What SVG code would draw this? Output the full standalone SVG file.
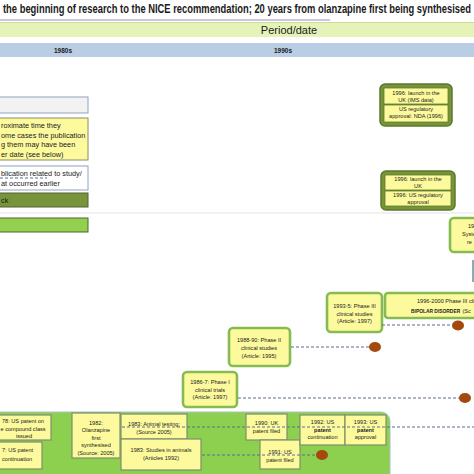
<svg xmlns="http://www.w3.org/2000/svg" width="474" height="474" viewBox="0 0 474 474">
<defs>
<style>
text{font-family:"Liberation Sans",Arial,sans-serif;fill:#1a1a1a}
.t{font-size:5.6px;text-anchor:middle}
.ts{font-size:5.6px}
.lg{font-size:7.3px}
.yb{fill:#fdfa9e;stroke:#7f8f6a;stroke-width:1.2}
.nd{fill:#fdfa9e;stroke:#86bb52;stroke-width:2.6}
.cell{fill:#fdfa9e;stroke:#5d7a2a;stroke-width:0.8}
.dg{fill:#77933c;stroke:#5d7a2a;stroke-width:1.5}
.dl{stroke:#5b6e8f;stroke-width:1.2;stroke-dasharray:3 2;fill:none}
.dot{fill:#a5480f}
</style>
</defs>
<rect width="474" height="474" fill="#fff"/>
<g id="title">
<text x="3" y="13" font-size="13" font-weight="bold" textLength="468" lengthAdjust="spacingAndGlyphs">the beginning of research to the NICE recommendation; 20 years from olanzapine first being synthesised</text>
<line x1="0" y1="20" x2="330" y2="20" stroke="#9b8ac0" stroke-width="1"/>
</g>
<g id="period">
<rect x="0" y="22" width="474" height="15" fill="#e6f3b8"/>
<line x1="0" y1="22.5" x2="474" y2="22.5" stroke="#c8de90" stroke-width="1"/>
<text x="289" y="34" font-size="11" text-anchor="middle">Period/date</text>
</g>
<g id="decades">
<rect x="0" y="43" width="474" height="14" fill="#b9cde5"/>
<text x="63" y="52.5" font-size="6.5" font-weight="bold" text-anchor="middle">1980s</text>
<text x="283" y="52.5" font-size="6.5" font-weight="bold" text-anchor="middle">1990s</text>
</g>
<g id="legend">
<rect x="-3" y="97" width="91" height="16" fill="#f2f2f2" stroke="#8ea2c0" stroke-width="1"/>
<rect x="-3" y="118" width="91" height="42" fill="#fdfa9e" stroke="#8a8a6a" stroke-width="1"/>
<text class="lg" x="1" y="127.5">roximate time they</text>
<text class="lg" x="1" y="137.5">ome cases the publication</text>
<text class="lg" x="1" y="146.5">g them may have been</text>
<text class="lg" x="1" y="156.5">er date (see below)</text>
<rect x="-3" y="166" width="91" height="24" fill="#fff" stroke="#8ea2c0" stroke-width="1"/>
<text class="lg" x="1" y="175.5">blication related to study/</text>
<line x1="0" y1="178" x2="47" y2="178" class="dl" stroke-width="0.8"/>
<text class="lg" x="1" y="185.5">at occurred earlier</text>
<rect x="-3" y="193" width="91" height="14" fill="#77933c" stroke="#55622f" stroke-width="1"/>
<text class="lg" x="1" y="202.5">ck</text>
<line x1="0" y1="213" x2="474" y2="213" stroke="#e3e3e3" stroke-width="1.2"/>
<rect x="-3" y="218" width="91" height="14" fill="#92d050" stroke="#55622f" stroke-width="1"/>
</g>
<g id="nodeA">
<rect x="380" y="84" width="72" height="42" rx="5" class="dg"/>
<rect x="384" y="88" width="64" height="16" class="cell"/>
<rect x="384" y="105" width="64" height="17" class="cell"/>
<text class="t" x="416" y="95">1996: launch in the</text>
<text class="t" x="416" y="102">UK (IMS data)</text>
<text class="t" x="416" y="110.5">US regulatory</text>
<text class="t" x="416" y="118">approval: NDA (1996)</text>
</g>
<g id="nodeB">
<rect x="381" y="171" width="74" height="39" rx="5" class="dg"/>
<rect x="385" y="175" width="66" height="15" class="cell"/>
<rect x="385" y="191" width="66" height="15" class="cell"/>
<text class="t" x="418" y="180.5">1996: launch in the</text>
<text class="t" x="418" y="188">UK</text>
<text class="t" x="418" y="197">1996: US regulatory</text>
<text class="t" x="418" y="204">approval</text>
</g>
<g id="nodeC">
<rect x="450" y="218" width="40" height="34" rx="4" class="nd"/>
<text class="ts" x="468" y="227.5">19</text>
<text class="ts" x="462" y="235.5">Syste</text>
<text class="ts" x="467" y="244">re</text>
<rect x="472" y="260" width="3" height="22" fill="#8eaab8"/>
</g>
<g id="nodeD">
<rect x="385" y="293" width="105" height="25" rx="3" class="nd"/>
<text class="ts" x="417" y="303">1996-2000 Phase III cli</text>
<text x="411" y="312.5" font-size="4.9" font-weight="bold">BIPOLAR DISORDER</text>
<text class="ts" x="462.5" y="312.5">(Sc</text>
</g>
<g id="nodeE">
<rect x="327" y="293" width="55" height="39" rx="4" class="nd"/>
<text class="t" x="354.5" y="308">1993-5: Phase III</text>
<text class="t" x="354.5" y="315.5">clinical studies</text>
<text class="t" x="354.5" y="323">(Article: 1997)</text>
</g>
<g id="nodeF">
<rect x="229" y="328" width="61" height="38" rx="4" class="nd"/>
<text class="t" x="259" y="342">1988-90: Phase II</text>
<text class="t" x="259" y="350">clinical studies</text>
<text class="t" x="259" y="358">(Article: 1995)</text>
</g>
<g id="nodeG">
<rect x="183" y="372" width="54" height="35" rx="4" class="nd"/>
<text class="t" x="210" y="384">1986-7: Phase I</text>
<text class="t" x="210" y="391.5">clinical trials</text>
<text class="t" x="210" y="399">(Article: 1997)</text>
</g>
<g id="patentArea">
<rect x="-10" y="412" width="400" height="72" rx="9" fill="#8dcf4e" stroke="#a8c0cc" stroke-width="1"/>
</g>
<g id="b1978">
<rect x="-5" y="415" width="56" height="25" class="yb"/>
<text class="ts" x="2" y="423">78: US patent on</text>
<text class="ts" x="0.5" y="430.5">e compound class</text>
<text class="t" x="24" y="438">issued</text>
</g>
<g id="b1987">
<rect x="-5" y="442" width="47" height="27" class="yb"/>
<text class="ts" x="2" y="452">7: US patent</text>
<text class="ts" x="2" y="461">continuation</text>
</g>
<g id="b1982">
<rect x="72" y="413" width="48" height="45" class="yb"/>
<text class="t" x="96" y="424.5">1982:</text>
<text class="t" x="96" y="432">Olanzapine</text>
<text class="t" x="96" y="439.5">first</text>
<text class="t" x="96" y="447">synthesised</text>
<text class="t" x="96" y="454.5">(Source: 2005)</text>
</g>
<g id="b1983a">
<rect x="121" y="414" width="66" height="25" class="yb"/>
<text class="t" x="154" y="426">1983: Animal testing;</text>
<text class="t" x="154" y="434">(Source 2005)</text>
</g>
<g id="b1983b">
<rect x="121" y="439" width="80" height="31" class="yb"/>
<text class="t" x="161" y="452">1983: Studies in animals</text>
<text class="t" x="161" y="460">(Articles 1992)</text>
</g>
<g id="b1990">
<rect x="246" y="414" width="41" height="26" class="yb"/>
<text class="t" x="266.5" y="425">1990: UK</text>
<text class="t" x="266.5" y="433">patent filed</text>
</g>
<g id="b1991">
<rect x="260" y="440" width="40" height="29" class="yb"/>
<text class="t" x="280" y="454">1991: US</text>
<text class="t" x="280" y="461.5">patent filed</text>
</g>
<g id="b1992">
<rect x="300" y="415" width="45" height="30" class="yb"/>
<text class="t" x="322.5" y="424">1992: US</text>
<text class="t" x="322.5" y="431.5" font-weight="bold">patent</text>
<text class="t" x="322.5" y="439">continuation</text>
</g>
<g id="b1993">
<rect x="345" y="415" width="41" height="30" class="yb"/>
<text class="t" x="365.5" y="424">1993: US</text>
<text class="t" x="365.5" y="431.5" font-weight="bold">patent</text>
<text class="t" x="365.5" y="439">approval</text>
</g>
<g id="connectors">
<line class="dl" x1="382" y1="325" x2="452" y2="325"/>
<ellipse class="dot" cx="458" cy="325.5" rx="6" ry="5"/>
<line class="dl" x1="291" y1="347" x2="369" y2="347"/>
<ellipse class="dot" cx="375" cy="347" rx="6" ry="5"/>
<line class="dl" x1="238" y1="398" x2="459" y2="398"/>
<ellipse class="dot" cx="465" cy="398" rx="6" ry="5"/>
<line class="dl" x1="122" y1="427" x2="474" y2="427"/>
<line class="dl" x1="202" y1="455" x2="316" y2="455"/>
<ellipse class="dot" cx="322" cy="455" rx="6" ry="5"/>
</g>
</svg>
